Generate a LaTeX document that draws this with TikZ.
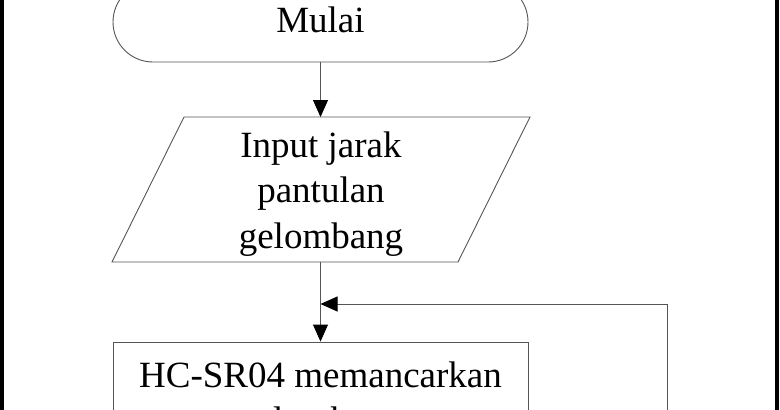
\documentclass[tikz,border=0pt]{standalone}
\usepackage{fontspec}
\setmainfont{Liberation Serif}
\usetikzlibrary{arrows.meta}
\definecolor{lineg}{RGB}{85,85,85}
\tikzset{
  shapeline/.style={draw=lineg, line width=0.9pt},
  term/.style={shapeline, rounded corners=40pt, minimum width=415pt, minimum height=80pt, inner sep=0pt, text depth=5.3pt},
  proc/.style={shapeline, minimum width=415pt, minimum height=118pt, inner sep=0pt, align=center},
  lbl/.style={align=center, inner sep=0pt},
  flow/.style={draw=lineg, line width=0.9pt, -{Triangle[length=17pt,width=15pt,fill=black,color=black]}},
  big/.style={font=\fontsize{37}{45.5}\selectfont}
}
\begin{document}
\begin{tikzpicture}[x=1pt,y=-1pt]
\useasboundingbox (0,0) rectangle (780,410);
\clip (0,0) rectangle (780,410);
% outer frame
\draw[line width=4pt] (2,-50) rectangle (777,470);
% start terminal
\node[term, big] (start) at (320.5,22) {Mulai};
% input parallelogram
\coordinate (inTop) at (320.5,117);
\coordinate (inBot) at (320.5,262);
\draw[shapeline] (184,117) -- (530,117) -- (458,262) -- (112,262) -- cycle;
\node[lbl, big] (inp) at (321,194) {Input jarak\\pantulan\\gelombang};
% process box
\node[proc, big] (hc) at (320.5,401) {HC-SR04 memancarkan\\gelombang};
% loop
\coordinate (loopStart) at (667,480);
\coordinate (loopIn) at (320.5,304);
% connectors
\draw[flow] (start.south) -- (inTop);
\draw[flow] (inBot) -- (hc.north);
\draw[flow] (loopStart) |- (loopIn);
\end{tikzpicture}
\end{document}
